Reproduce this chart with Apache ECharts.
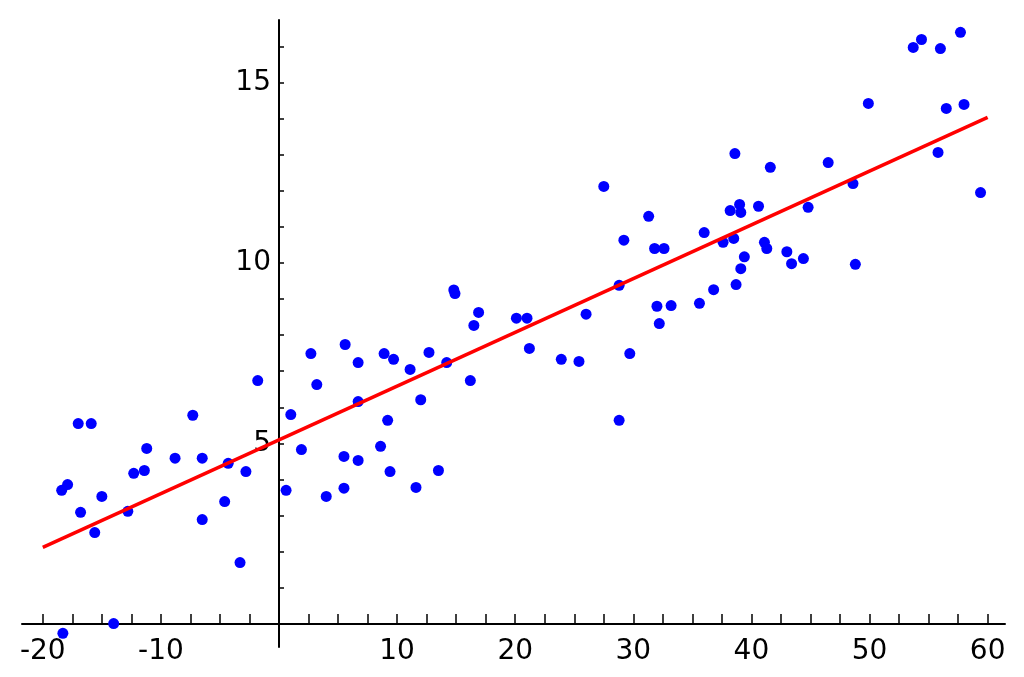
<!DOCTYPE html>
<html><head><meta charset="utf-8">
<script src="https://cdn.jsdelivr.net/npm/echarts@6/dist/echarts.min.js"></script>
<style>html,body{margin:0;background:#fff}#c{width:1024px;height:677px}</style>
</head><body><div id="c"></div>
<script>
const pointsX = [-18.4,-17.9,-17.0,-15.9,-16.8,-15.0,-15.6,-18.3,-14.0,-12.8,-12.3,-11.4,-11.2,-8.8,-7.3,-6.5,-6.5,-4.6,-4.3,-3.3,-2.8,-1.8,0.6,1.0,1.9,2.7,3.2,4.0,5.6,5.5,5.5,6.7,6.7,6.7,8.6,8.9,9.7,9.2,9.4,11.1,12.0,11.6,12.7,13.5,14.2,16.2,14.8,14.9,16.5,16.9,20.1,21.0,21.2,23.9,25.4,26.0,27.5,28.8,28.8,29.2,29.7,31.3,31.8,32.6,32.0,33.2,32.2,35.6,36.0,36.8,37.6,38.2,38.6,38.5,38.7,39.0,39.1,39.1,39.4,40.6,41.1,41.3,41.6,43.0,43.4,44.4,44.8,46.5,48.6,48.8,49.9,53.7,54.4,56.0,56.5,55.8,57.7,58.0,59.4];
const pointsY = [3.70,3.86,5.55,5.55,3.09,3.53,2.53,-0.26,0.01,3.12,4.17,4.25,4.86,4.59,5.78,4.59,2.89,3.39,4.45,1.70,4.22,6.74,3.70,5.80,4.83,7.49,6.63,3.53,7.74,4.64,3.76,7.24,6.16,4.53,4.92,7.49,7.33,5.64,4.22,7.05,6.21,3.78,7.52,4.25,7.24,6.74,9.25,9.15,8.27,8.63,8.47,8.47,7.63,7.33,7.27,8.58,12.12,9.38,5.64,10.63,7.49,11.29,10.40,10.40,8.80,8.82,8.32,8.88,10.84,9.26,10.57,11.45,13.03,10.68,9.40,11.62,11.40,9.84,10.17,11.57,10.57,10.40,12.65,10.31,9.98,10.12,11.54,12.78,12.20,9.96,14.42,15.97,16.19,15.94,14.28,13.06,16.39,14.39,11.95];
const lineX = [-20, 60];
const lineY = [2.12, 14.03];
const xTicks = [-20,-17.5,-15,-12.5,-10,-7.5,-5,-2.5,2.5,5,7.5,10,12.5,15,17.5,20,22.5,25,27.5,30,32.5,35,37.5,40,42.5,45,47.5,50,52.5,55,57.5,60];
const xLabels = [-20,-10,10,20,30,40,50,60];
const yTicks = [1,2,3,4,5,6,7,8,9,10,11,12,13,14,15,16];
const yLabels = [5,10,15];

const chart = echarts.init(document.getElementById('c'));
chart.setOption({
  animation:false,
  grid:{left:22,right:19,top:20,bottom:30,containLabel:false,outerBoundsMode:'none'},
  xAxis:{type:'value',min:-21.76,max:61.47,splitLine:{show:false},position:'bottom',offset:-23,
    axisLine:{onZero:false,lineStyle:{color:'#000',width:2}},
    axisTick:{inside:true,length:10,customValues:xTicks,lineStyle:{color:'#000',width:1.5}},
    axisLabel:{customValues:xLabels,color:'#000',fontSize:28,fontFamily:'DejaVu Sans',margin:14}},
  yAxis:{type:'value',min:-0.64,max:16.73,splitLine:{show:false},position:'left',offset:-257,
    axisLine:{onZero:false,lineStyle:{color:'#000',width:2}},
    axisTick:{inside:true,length:5,customValues:yTicks,lineStyle:{color:'#000',width:1.5}},
    axisLabel:{customValues:yLabels,color:'#000',fontSize:28,fontFamily:'DejaVu Sans',margin:8}},
  series:[
    {type:'scatter',data:pointsX.map((x,i)=>[x,pointsY[i]]),symbolSize:11,itemStyle:{color:'#0000ff',opacity:1},z:3},
    {type:'line',data:lineX.map((x,i)=>[x,lineY[i]]),symbol:'none',lineStyle:{color:'#ff0000',width:3.5},z:4}
  ]
});
</script></body></html>
